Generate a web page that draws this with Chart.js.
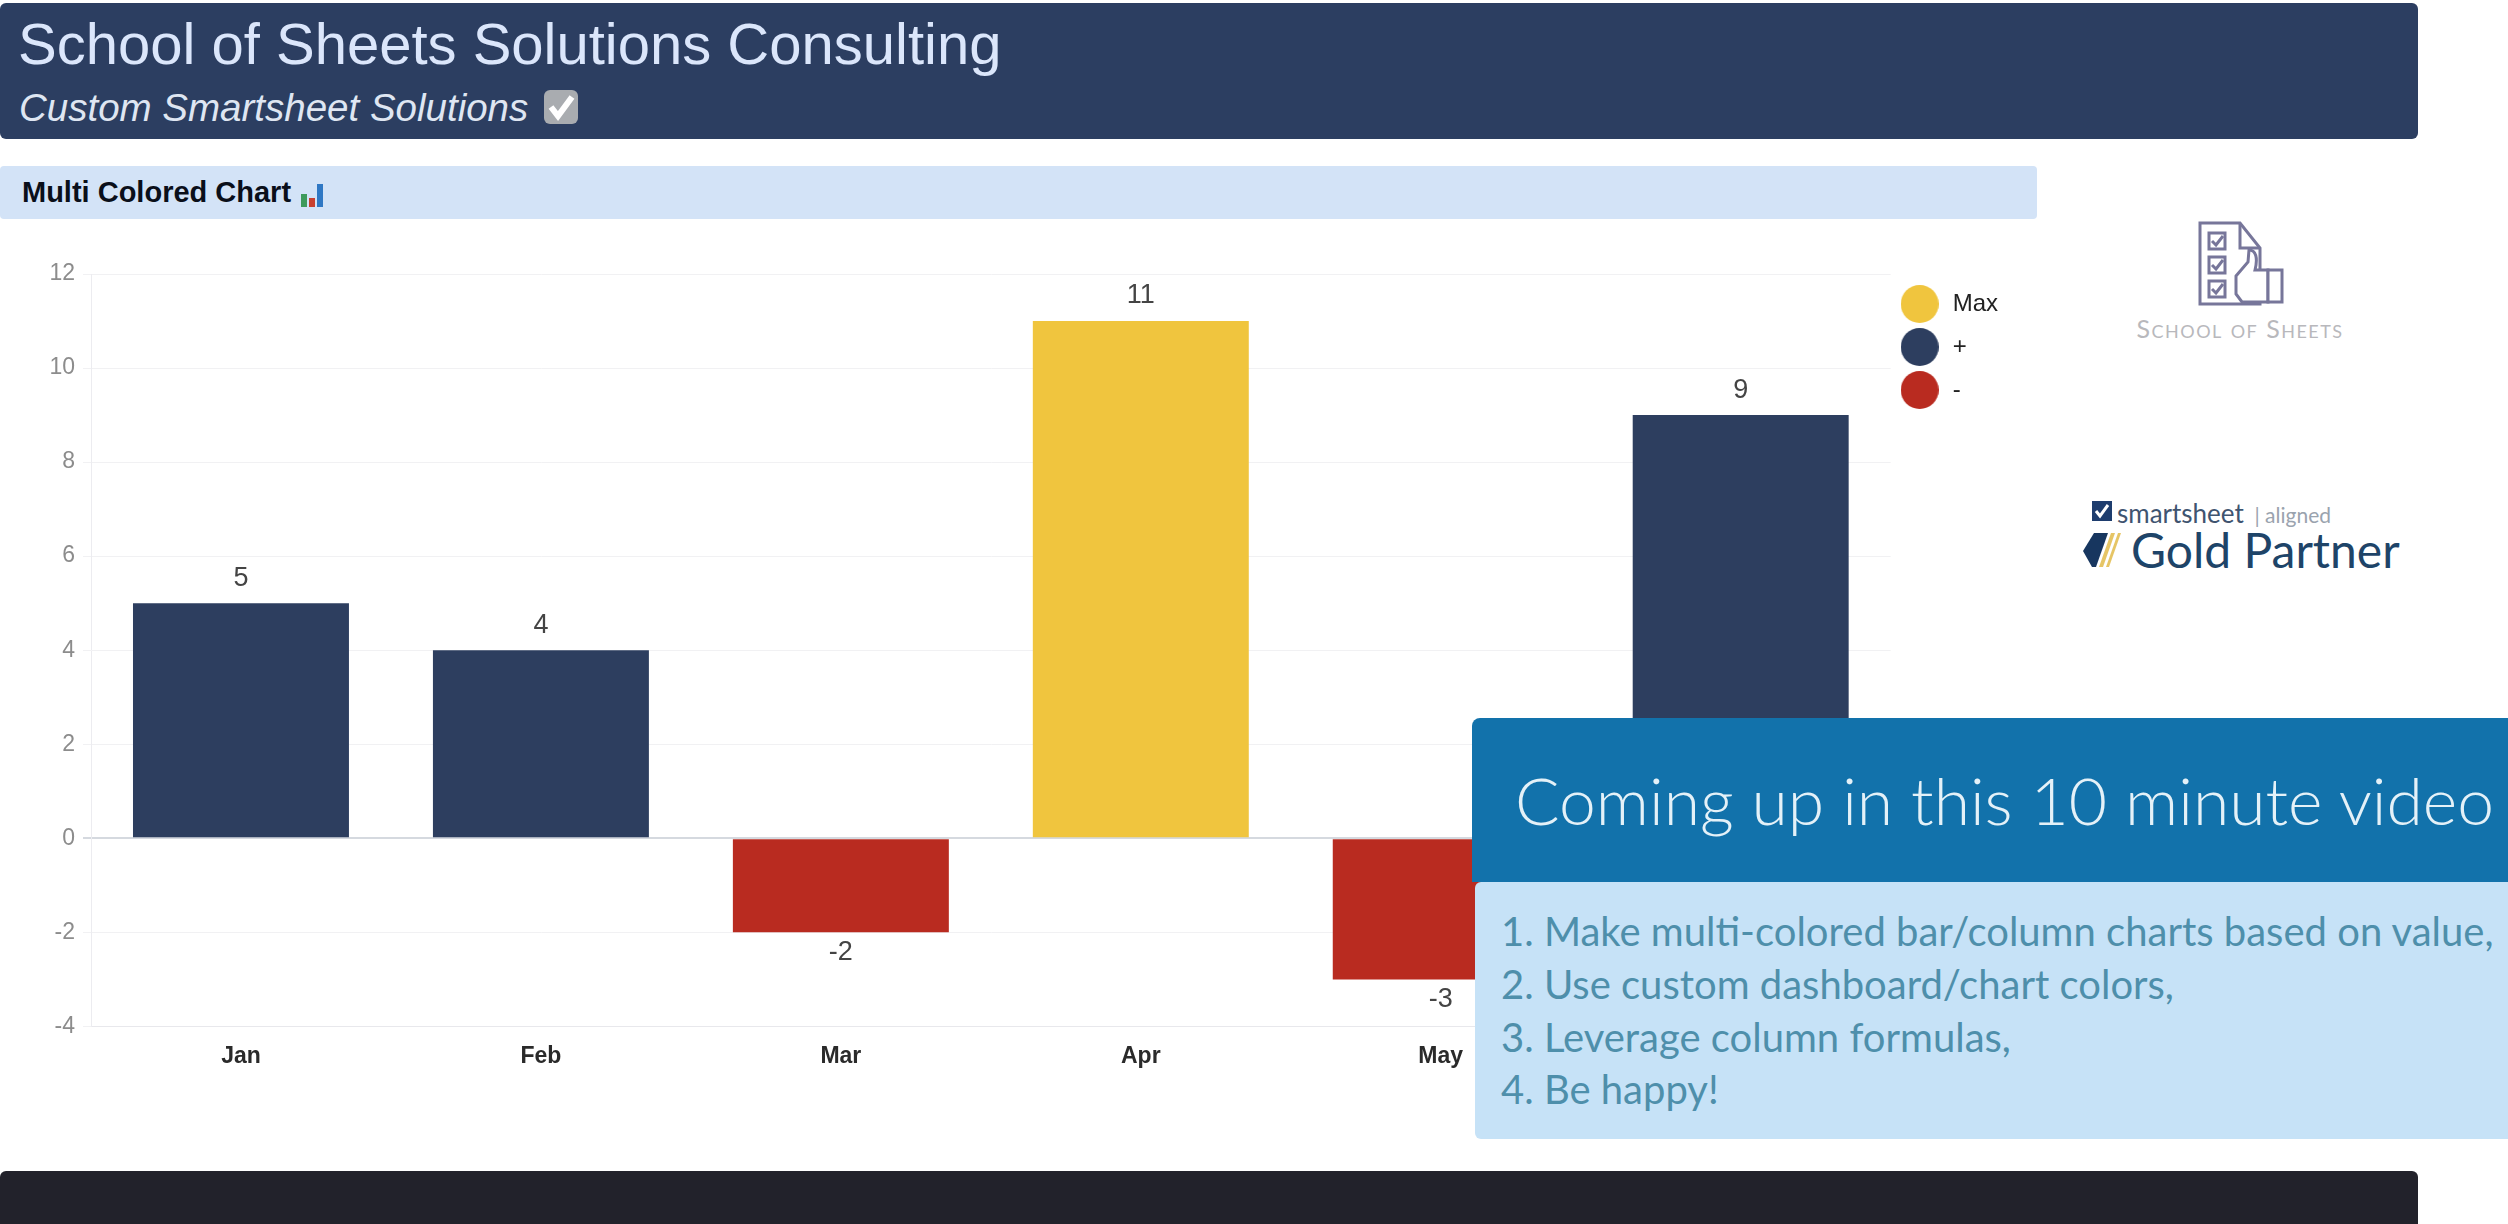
<!DOCTYPE html>
<html>
<head>
<meta charset="utf-8">
<title>Multi Colored Chart</title>
<script src="https://cdn.jsdelivr.net/npm/chart.js@4"></script>
<style>
  html, body { margin: 0; padding: 0; background: #fff; overflow: hidden; }
  body { width: 2508px; height: 1224px; position: relative; font-family: "Liberation Sans", sans-serif; }
  .box { position: absolute; }
  #top { left: 0; top: 3px; width: 2418px; height: 136px; background: #2c3e61; border-radius: 6px; }
  #top .t1 { position: absolute; left: 18px; top: 7px; font-size: 58px; color: #dbe6fb; white-space: nowrap; }
  #top .t2 { position: absolute; left: 19px; top: 83px; font-size: 38.5px; font-style: italic; color: #dfe6f2; white-space: nowrap; }
  #check { display: inline-block; vertical-align: -4px; margin-left: 4px; }
  #band { left: 0; top: 166px; width: 2037px; height: 53px; background: #d3e3f7; border-radius: 4px; }
  #band span.t { position: absolute; left: 22px; top: 10px; font-size: 29px; font-weight: bold; color: #0a0f1a; white-space: nowrap; }
  #foot { left: 0; top: 1171px; width: 2418px; height: 53px; background: #22222b; border-radius: 6px 6px 0 0; }
  #wrap { left: 0; top: 222px; width: 2019px; height: 900px; }
  #logo1 { left: 2196px; top: 220px; }
  #logo1txt { left: 2100px; width: 280px; top: 313px; text-align: center; font-family: Lato, sans-serif; font-size: 25px; font-variant: small-caps; letter-spacing: 1.5px; color: #b8b8bc; }
  #ss { left: 2117px; top: 497px; font-family: Lato, sans-serif; font-size: 26px; color: #3f5470; white-space: nowrap; }
  #ss i { font-style: normal; color: #9aa3ae; font-size: 21px; margin-left: 4px; }
  #gp { left: 2131px; top: 521px; font-family: Lato, sans-serif; font-size: 48px; color: #1e4468; white-space: nowrap; }
  #comingHead { left: 1472px; top: 718px; width: 1036px; height: 164px; background: #1272ab; border-radius: 8px 0 0 0; z-index: 3; }
  #comingHead div { position: absolute; left: 43px; top: 42px; font-family: Lato, sans-serif; font-weight: 300; font-size: 66px; color: #e4f1f8; white-space: nowrap; }
  #comingBody { left: 1475px; top: 882px; width: 1033px; height: 257px; background: #c6e2f7; border-radius: 6px 0 0 6px; z-index: 3; }
  #comingBody div { position: absolute; left: 26px; font-family: Lato, sans-serif; font-size: 40px; color: #4e8fab; white-space: nowrap; }
</style>
</head>
<body>
<div class="box" id="top">
  <div class="t1">School of Sheets Solutions Consulting</div>
  <div class="t2">Custom Smartsheet Solutions
    <svg id="check" width="36" height="36" viewBox="0 0 36 36"><rect x="1" y="1" width="34" height="34" rx="6" fill="#a9acb0"/><path d="M8 18 L15 27 L29 8" fill="none" stroke="#fff" stroke-width="6"/></svg>
  </div>
</div>
<div class="box" id="band">
  <span class="t">Multi Colored Chart</span>
  <svg style="position:absolute;left:298px;top:15px" width="28" height="28" viewBox="0 0 28 28"><rect x="3" y="13" width="6" height="13" fill="#3d9a5c"/><rect x="11" y="17" width="6" height="9" fill="#c9402f"/><rect x="19" y="3" width="6" height="23" fill="#2f78c4"/></svg>
</div>
<div class="box" id="wrap"><canvas id="chart" width="2019" height="900"></canvas></div>

<svg class="box" id="logo1" width="90" height="88" viewBox="0 0 90 88" fill="none" stroke="#77769a" stroke-width="3">
  <path d="M4 3 H44 L64 28 V84 H4 Z"/><path d="M44 3 V28 H64"/>
  <rect x="13" y="13" width="16" height="16"/><rect x="13" y="37" width="16" height="16"/><rect x="13" y="61" width="16" height="16"/>
  <path d="M16 21 l4 4 l7 -9 M16 45 l4 4 l7 -9 M16 69 l4 4 l7 -9"/>
  <path d="M40 56 L52 42 L53 30 C60 30 62 38 59 50 H72 V82 H46 L40 74 Z" fill="#fff"/><rect x="72" y="50" width="14" height="32" fill="#fff"/>
</svg>
<div class="box" id="logo1txt">School of Sheets</div>

<svg class="box" style="left:2091px;top:500px" width="22" height="22" viewBox="0 0 22 22"><rect width="20" height="20" x="1" y="1" fill="#1e3d6e"/><path d="M5 11 l4 5 l8 -11" fill="none" stroke="#fff" stroke-width="3"/></svg>
<div class="box" id="ss">smartsheet <i>| aligned</i></div>
<svg class="box" style="left:2082px;top:531px" width="40" height="38" viewBox="0 0 40 38"><path d="M12 2 H26 L14 36 H10 L1 20 Z" fill="#17365f"/><path d="M29 2 H33 L21 36 H17 Z" fill="#e6c565"/><path d="M36 2 H39 L27 36 H24 Z" fill="#e6c565"/></svg>
<div class="box" id="gp">Gold Partner</div>

<div class="box" id="comingHead"><div>Coming up in this 10 minute video</div></div>
<div class="box" id="comingBody">
  <div style="top:25px">1. Make multi-colored bar/column charts based on value,</div>
  <div style="top:78px">2. Use custom dashboard/chart colors,</div>
  <div style="top:131px">3. Leverage column formulas,</div>
  <div style="top:183px">4. Be happy!</div>
</div>
<div class="box" id="foot"></div>

<script>
// datos del grafico
const months = ['Jan', 'Feb', 'Mar', 'Apr', 'May', 'Jun'];
const maxValues = [null, null, null, 11, null, null];
const posValues = [5, 4, null, null, null, 9];
const negValues = [null, null, -2, null, -3, null];
const yTicks = [-4, -2, 0, 2, 4, 6, 8, 10, 12];
const legendNames = ['Max', '+', '-'];
const barColors = ['#f0c53e', '#2d3e5f', '#b92b20'];

// circulo de la leyenda
function legendDot(color) {
    const c = document.createElement('canvas');
    c.width = 38;
    c.height = 38;
    const g = c.getContext('2d');
    g.fillStyle = color;
    g.beginPath();
    g.arc(19, 19, 19, 0, Math.PI * 2);
    g.fill();
    return c;
}

// numeros sobre las barras
const valueLabels = {
    id: 'valueLabels',
    afterDatasetsDraw(chart) {
        const ctx = chart.ctx;
        ctx.save();
        ctx.font = '27px "Liberation Sans"';
        ctx.fillStyle = '#444';
        ctx.textAlign = 'center';
        ctx.textBaseline = 'middle';
        chart.data.datasets.forEach((ds, i) => {
            chart.getDatasetMeta(i).data.forEach((bar, j) => {
                const v = ds.data[j];
                if (v === null) return;
                ctx.fillText(v, bar.x, v < 0 ? bar.y + 20 : bar.y - 25);
            });
        });
        ctx.restore();
    }
};

// la leyenda queda un poco mas arriba y a la izquierda
const legendNudge = {
    id: 'legendNudge',
    afterLayout(chart) {
        chart.legend.left -= 11;
        chart.legend.top -= 1;
    }
};

new Chart(document.getElementById('chart'), {
    type: 'bar',
    plugins: [valueLabels, legendNudge],
    data: {
        labels: months,
        datasets: [
            { label: legendNames[0], data: maxValues, backgroundColor: barColors[0] },
            { label: legendNames[1], data: posValues, backgroundColor: barColors[1] },
            { label: legendNames[2], data: negValues, backgroundColor: barColors[2] }
        ]
    },
    options: {
        responsive: false,
        animation: false,
        layout: { padding: { top: 52, bottom: 36, left: 0, right: 0 } },
        plugins: {
            tooltip: { enabled: false },
            legend: {
                position: 'right',
                align: 'start',
                labels: {
                    usePointStyle: true,
                    pointStyleWidth: 42,
                    padding: 19,
                    color: '#222',
                    font: { family: '"Liberation Sans"', size: 24 },
                    generateLabels: chart => chart.data.datasets.map((ds, i) => ({
                        text: ds.label,
                        datasetIndex: i,
                        pointStyle: legendDot(ds.backgroundColor),
                        fillStyle: ds.backgroundColor,
                        strokeStyle: ds.backgroundColor,
                        lineWidth: 0,
                        fontColor: '#222'
                    }))
                }
            }
        },
        scales: {
            x: {
                stacked: true,
                grid: { display: false, drawTicks: false },
                border: { color: '#e8e8ec' },
                ticks: { color: '#2a2a2a', padding: 16, font: { family: '"Liberation Sans"', size: 23, weight: 'bold' } }
            },
            y: {
                stacked: true,
                min: -4,
                max: 12,
                afterFit: scale => { scale.width = 91; },
                afterBuildTicks: scale => { scale.ticks = yTicks.map(v => ({ value: v })); },
                grid: {
                    color: ctx => ctx.tick && ctx.tick.value === 0 ? '#d5d9df' : '#f1f1f3',
                    lineWidth: ctx => ctx.tick && ctx.tick.value === 0 ? 2 : 1,
                    tickLength: 8
                },
                border: { color: '#ececf0' },
                ticks: { color: '#8c8c8c', padding: 8, font: { family: '"Liberation Sans"', size: 23 } }
            }
        }
    }
});
</script>
</body>
</html>
